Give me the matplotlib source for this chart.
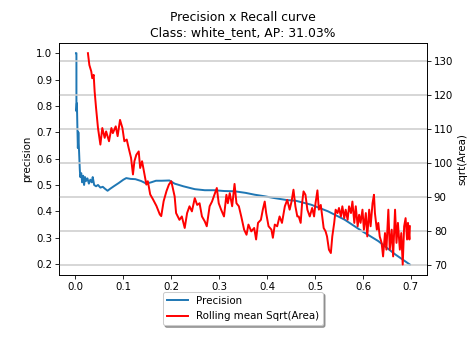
import numpy as np
import matplotlib
matplotlib.use("Agg")
import matplotlib.pyplot as plt

# Precision curve
recall_prec = [0.001, 0.002, 0.002, 0.003, 0.004, 0.005, 0.006, 0.007, 0.009, 0.010,
               0.012, 0.014, 0.016, 0.018, 0.020, 0.022, 0.025, 0.028, 0.031, 0.034,
               0.036, 0.039, 0.043, 0.047, 0.052, 0.057, 0.062, 0.067, 0.072, 0.080,
               0.090, 0.100, 0.106, 0.115, 0.125, 0.137, 0.148, 0.158, 0.168, 0.180,
               0.196, 0.207, 0.225, 0.249, 0.270, 0.290, 0.310, 0.332, 0.355, 0.374,
               0.395, 0.416, 0.440, 0.460, 0.492, 0.527, 0.562, 0.597, 0.632, 0.667,
               0.698]
precision = [1.000, 1.000, 0.780, 0.810, 0.720, 0.640, 0.700, 0.650, 0.560, 0.530,
             0.545, 0.510, 0.535, 0.500, 0.530, 0.515, 0.525, 0.505, 0.520, 0.510,
             0.530, 0.500, 0.495, 0.500, 0.490, 0.493, 0.485, 0.478, 0.485, 0.495,
             0.507, 0.520, 0.526, 0.523, 0.522, 0.515, 0.505, 0.510, 0.516, 0.516,
             0.517, 0.505, 0.495, 0.484, 0.480, 0.480, 0.477, 0.476, 0.470, 0.463,
             0.457, 0.450, 0.443, 0.440, 0.425, 0.400, 0.368, 0.326, 0.287, 0.237,
             0.198]

# Rolling mean of sqrt(area)
recall_area = [0.026, 0.029, 0.033, 0.035, 0.038, 0.040, 0.043, 0.047, 0.052, 0.056,
               0.061, 0.064, 0.070, 0.075, 0.078, 0.084, 0.088, 0.093, 0.098, 0.102,
               0.107, 0.111, 0.116, 0.120, 0.123, 0.127, 0.132, 0.135, 0.139, 0.144,
               0.148, 0.151, 0.156, 0.162, 0.169, 0.176, 0.179, 0.184, 0.190, 0.195,
               0.200, 0.207, 0.210, 0.217, 0.222, 0.228, 0.233, 0.238, 0.243, 0.249,
               0.254, 0.259, 0.264, 0.270, 0.274, 0.280, 0.285, 0.290, 0.295, 0.299,
               0.304, 0.310, 0.315, 0.318, 0.322, 0.327, 0.332, 0.336, 0.341, 0.346,
               0.352, 0.357, 0.361, 0.367, 0.373, 0.377, 0.381, 0.387, 0.391, 0.395,
               0.398, 0.403, 0.409, 0.412, 0.416, 0.421, 0.426, 0.431, 0.437, 0.442,
               0.447, 0.451, 0.455, 0.459, 0.463, 0.466, 0.470, 0.473, 0.476, 0.480,
               0.484, 0.489, 0.494, 0.498, 0.501, 0.505, 0.508, 0.512, 0.515, 0.518,
               0.522, 0.525, 0.529, 0.533, 0.536, 0.540, 0.543, 0.547, 0.550, 0.554,
               0.557, 0.561, 0.564, 0.568, 0.571, 0.575, 0.578, 0.582, 0.585, 0.589,
               0.592, 0.595, 0.599, 0.602, 0.606, 0.609, 0.613, 0.616, 0.620, 0.623,
               0.625, 0.629, 0.632, 0.635, 0.639, 0.642, 0.646, 0.649, 0.653, 0.656,
               0.660, 0.663, 0.667, 0.670, 0.673, 0.677, 0.680, 0.683, 0.686, 0.689,
               0.692, 0.694, 0.697, 0.698]
sqrt_area = [132.4, 128.9, 127.0, 125.0, 126.0, 121.1, 116.2, 110.3, 105.4, 110.3,
             107.4, 109.3, 106.4, 110.3, 108.8, 110.8, 107.9, 112.7, 110.3, 106.4,
             106.9, 104.4, 101.5, 96.6, 100.5, 102.4, 103.4, 98.5, 100.5, 96.6,
             93.6, 94.6, 90.7, 89.2, 87.3, 84.8, 84.3, 88.7, 91.7, 93.6,
             94.6, 90.1, 85.2, 83.2, 84.2, 80.8, 85.2, 87.2, 85.7, 89.6,
             87.6, 88.1, 84.2, 82.7, 81.3, 87.2, 88.6, 90.6, 92.6, 88.1,
             86.2, 84.2, 90.6, 88.1, 91.1, 87.2, 93.8, 88.1, 87.2, 84.2,
             80.3, 78.8, 81.8, 79.8, 80.8, 77.4, 82.3, 83.2, 86.2, 88.6,
             85.2, 81.3, 80.3, 77.9, 81.8, 81.3, 84.2, 82.3, 87.2, 89.1,
             86.2, 88.6, 92.1, 87.2, 84.2, 84.2, 82.3, 88.1, 91.6, 90.6,
             86.2, 84.2, 86.7, 84.2, 88.1, 91.9, 86.2, 87.6, 84.2, 80.8,
             79.8, 78.3, 74.4, 73.4, 78.3, 82.3, 86.2, 85.2, 86.7, 84.2,
             87.2, 83.7, 86.2, 83.2, 87.2, 85.2, 88.6, 82.3, 87.2, 81.3,
             84.7, 82.3, 86.2, 80.3, 85.2, 78.3, 86.2, 81.3, 88.1, 90.6,
             85.2, 80.3, 82.3, 78.3, 76.4, 72.4, 79.3, 74.4, 86.2, 74.4,
             80.3, 72.4, 86.2, 76.4, 82.3, 74.4, 79.3, 70.0, 81.3, 83.7,
             77.4, 82.3, 77.4, 81.3]

fig, ax = plt.subplots(figsize=(474 / 74, 355 / 74), dpi=74)
fig.subplots_adjust(bottom=0.225)

l1, = ax.plot(recall_prec, precision, lw=1.9, label="Precision")
ax.set_ylabel("precision")
ax.set_title("Precision x Recall curve\nClass: white_tent, AP: 31.03%")

ax2 = ax.twinx()
l2, = ax2.plot(recall_area, sqrt_area, color="r", lw=1.9, label="Rolling mean Sqrt(Area)")
ax2.set_ylabel("sqrt(Area)")
ax2.grid(axis="y", color="#cccccc", linewidth=1.5)

ax.legend(handles=[l1, l2], loc="upper center", bbox_to_anchor=(0.5, -0.05),
          fancybox=True, shadow=True)

fig.savefig("out.png", dpi=74)
